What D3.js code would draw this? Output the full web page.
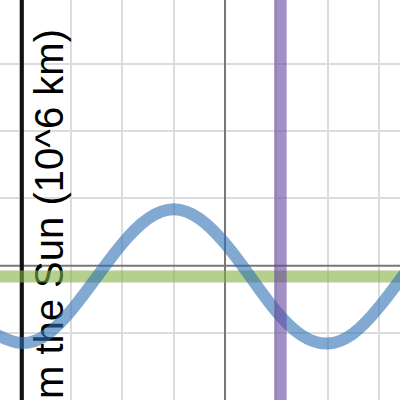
<!DOCTYPE html>
<html lang="en">
<head>
    <meta charset="UTF-8">
    <title>Distance from the Sun</title>
    <script src="https://d3js.org/d3.v7.min.js"></script>
    <style>
        body { margin: 0; overflow: hidden; background: #fff; }
        .grid line { stroke: #dcdcdc; stroke-width: 2; shape-rendering: crispEdges; }
        .axis-line { stroke: #777; stroke-width: 2; }
        .ylabel { font-family: "Liberation Sans", Arial, sans-serif; font-size: 40px; fill: #000; }
    </style>
</head>
<body>
    <div id="chart"></div>
    <script>
        // values, in graph units
        var months = [-4.5, -4, -3.5, -3, -2.5, -2, -1.5, -1, -0.5, 0, 0.5, 1, 1.5, 2, 2.5, 3, 3.5];
        var distance = [-1.01, -1.15, -1.04, -0.67, -0.17, 0.33, 0.70, 0.84, 0.70, 0.33, -0.17, -0.68, -1.04, -1.16, -1.01, -0.62, -0.12];
        var meanDistance = [-0.16];
        var markerX = [1.08];
        var boundaryX = [-3.96];
        // only the tail of the axis title is visible in the picture
        var yLabel = "m the Sun (10^6 km)";

        var width = 400, height = 400;

        var svg = d3.select("#chart")
            .append("svg")
            .attr("width", width)
            .attr("height", height);

        var x = d3.scaleLinear().domain([-4.386, 3.411]).range([0, width]);
        var y = d3.scaleLinear().domain([-2, 3.955]).range([height, 0]);

        var xTicks = d3.range(-4, 4).filter(function (d) { return d !== 0; });
        var yTicks = d3.range(-2, 4).filter(function (d) { return d !== 0 && y(d) > 1 && y(d) < height - 1; });

        var grid = svg.append("g").attr("class", "grid");
        grid.selectAll(".vx")
            .data(xTicks)
            .enter()
            .append("line")
            .attr("x1", function (d) { return x(d); })
            .attr("x2", function (d) { return x(d); })
            .attr("y1", 0)
            .attr("y2", height);
        grid.selectAll(".hy")
            .data(yTicks)
            .enter()
            .append("line")
            .attr("x1", 0)
            .attr("x2", width)
            .attr("y1", function (d) { return y(d); })
            .attr("y2", function (d) { return y(d); });

        // axes through the origin
        svg.append("line").attr("class", "axis-line")
            .attr("x1", x(0)).attr("x2", x(0)).attr("y1", 0).attr("y2", height);
        svg.append("line").attr("class", "axis-line")
            .attr("x1", 0).attr("x2", width).attr("y1", y(0)).attr("y2", y(0));

        svg.selectAll(".boundary")
            .data(boundaryX)
            .enter()
            .append("line")
            .attr("x1", function (d) { return x(d); })
            .attr("x2", function (d) { return x(d); })
            .attr("y1", 0)
            .attr("y2", height)
            .attr("stroke", "#111")
            .attr("stroke-width", 4);

        svg.append("text")
            .attr("class", "ylabel")
            .attr("transform", "translate(63,29) rotate(-90)")
            .attr("text-anchor", "end")
            .text(yLabel);

        svg.selectAll(".mean")
            .data(meanDistance)
            .enter()
            .append("line")
            .attr("x1", 0)
            .attr("x2", width)
            .attr("y1", function (d) { return y(d); })
            .attr("y2", function (d) { return y(d); })
            .attr("stroke", "#84b13f")
            .attr("stroke-opacity", 0.6)
            .attr("stroke-width", 12);

        var line = d3.line()
            .x(function (d, i) { return x(months[i]); })
            .y(function (d) { return y(d); })
            .curve(d3.curveNatural);

        svg.append("path")
            .attr("d", line(distance))
            .attr("fill", "none")
            .attr("stroke", "#2d70b3")
            .attr("stroke-opacity", 0.6)
            .attr("stroke-width", 12);

        svg.selectAll(".marker")
            .data(markerX)
            .enter()
            .append("line")
            .attr("x1", function (d) { return x(d); })
            .attr("x2", function (d) { return x(d); })
            .attr("y1", 0)
            .attr("y2", height)
            .attr("stroke", "#66469d")
            .attr("stroke-opacity", 0.6)
            .attr("stroke-width", 12.5);
    </script>
</body>
</html>
